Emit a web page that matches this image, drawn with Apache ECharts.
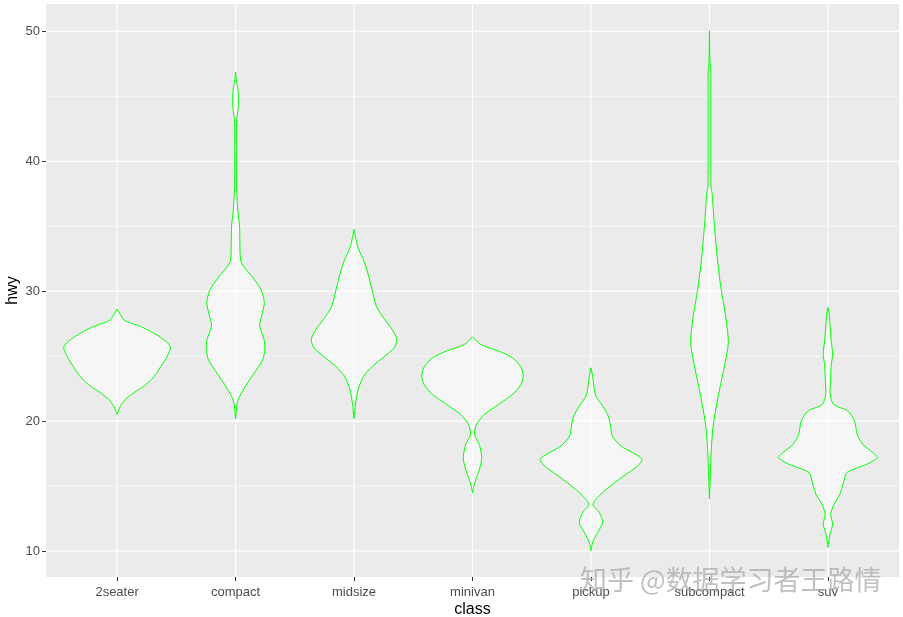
<!DOCTYPE html>
<html><head><meta charset="utf-8">
<script src="https://cdn.jsdelivr.net/npm/echarts@6/dist/echarts.min.js"></script>
<style>html,body{margin:0;padding:0;background:#fff}#c{width:903px;height:617px}</style>
</head><body><div id="c"></div>
<script>
const categories = ['2seater','compact','midsize','minivan','pickup','subcompact','suv'];
const yTicks = [10,20,30,40,50];
const yMinor = [15,25,35,45];

// Violin outlines: hwy value and half-width (in category units)
const hwy_2seater = [28.62,28.19,27.8,27.55,27.29,26.91,26.53,26.01,25.63,25.25,24.74,24.22,23.71,23.2,22.69,22.18,21.67,21.15,20.51];
const w_2seater   = [0,0.028,0.056,0.112,0.197,0.281,0.352,0.428,0.45,0.436,0.408,0.37,0.335,0.29,0.225,0.141,0.07,0.028,0];

const hwy_compact = [46.86,46.2,45.5,44.8,44.0,43.2,42.0,40.0,38.0,37.0,36.2,35.0,33.9,32.4,31.9,31.1,30.1,29.1,28.06,27.3,26.27,25.5,24.7,23.7,22.7,21.9,21.4,20.18];
const w_compact   = [0,0.007,0.021,0.024,0.021,0.01,0.007,0.007,0.008,0.014,0.019,0.034,0.036,0.042,0.068,0.141,0.216,0.243,0.219,0.203,0.241,0.247,0.228,0.158,0.084,0.034,0.014,0];

const hwy_midsize = [34.77,33.95,33.18,32.4,31.4,30.1,28.8,27.8,27.04,26.27,25.63,25.0,24.2,23.45,22.4,21.4,20.18];
const w_midsize   = [0,0.017,0.04,0.08,0.116,0.152,0.19,0.26,0.323,0.361,0.338,0.26,0.154,0.08,0.034,0.014,0];

const hwy_minivan = [26.48,25.9,25.37,24.87,24.1,23.45,22.8,22.05,21.28,20.5,19.75,18.98,18.2,17.2,16.4,15.66,15.0,14.5];
const w_minivan   = [0,0.068,0.225,0.338,0.412,0.428,0.408,0.338,0.219,0.099,0.034,0.017,0.057,0.078,0.062,0.034,0.011,0];

const hwy_pickup = [24.1,23.45,22.7,21.92,21.15,20.38,19.62,18.85,18.08,17.57,17.06,16.55,15.9,15.14,14.37,13.6,12.97,12.2,11.44,10.67,10.02];
const w_pickup   = [0,0.014,0.024,0.042,0.099,0.146,0.165,0.18,0.253,0.352,0.43,0.394,0.295,0.183,0.084,0.017,0.07,0.099,0.057,0.014,0];

const hwy_subcompact = [50.06,47.7,47.0,45.6,42.0,38.0,37.5,35.5,32.9,30.36,28.3,26.8,26.0,25.0,23.2,21.4,19.6,17.6,16.0,14.0];
const w_subcompact   = [0,0.004,0.011,0.011,0.011,0.013,0.023,0.038,0.062,0.095,0.133,0.154,0.159,0.143,0.103,0.063,0.031,0.014,0.008,0];

const hwy_suv = [28.75,28.19,27.17,26.14,25.12,24.35,23.33,22.05,21.28,20.77,20.0,18.98,18.2,17.57,17.19,16.68,16.04,15.27,14.37,13.6,12.84,12.07,11.3,10.28];
const w_suv   = [0,0.011,0.019,0.028,0.04,0.028,0.023,0.019,0.048,0.169,0.225,0.247,0.295,0.38,0.418,0.329,0.16,0.131,0.101,0.051,0.023,0.04,0.017,0];

const profiles = [
  [hwy_2seater, w_2seater],
  [hwy_compact, w_compact],
  [hwy_midsize, w_midsize],
  [hwy_minivan, w_minivan],
  [hwy_pickup, w_pickup],
  [hwy_subcompact, w_subcompact],
  [hwy_suv, w_suv]
];

const catPositions = categories.map((c, i) => i + 1);

const chart = echarts.init(document.getElementById('c'));

// grid line items: [kind, value]
const gridItems = [];
yMinor.forEach(v => gridItems.push(['hminor', v]));
yTicks.forEach(v => gridItems.push(['hmajor', v]));
catPositions.forEach(v => gridItems.push(['vmajor', v]));

const font = '"Liberation Sans", Arial, sans-serif';

chart.setOption({
  animation: false,
  backgroundColor: '#ffffff',
  grid: { left: 46, right: 4, top: 4, bottom: 40, show: true, backgroundColor: '#EBEBEB', borderWidth: 0,
    containLabel: false, outerBoundsMode: 'none' },
  xAxis: {
    type: 'value', min: 0.4, max: 7.6,
    name: 'class', nameLocation: 'middle', nameGap: 25, nameMoveOverlap: false,
    nameTextStyle: { fontSize: 16, color: '#000000', fontFamily: font },
    axisLine: { show: false },
    axisTick: { show: true, length: 4, lineStyle: { color: '#333333', width: 1 }, customValues: catPositions },
    axisLabel: { color: '#4D4D4D', fontSize: 13, fontFamily: font, margin: 9, customValues: catPositions,
      formatter: v => categories[Math.round(v) - 1] || '' },
    splitLine: { show: false }
  },
  yAxis: {
    type: 'value', min: 8.0, max: 52.1,
    name: 'hwy', nameLocation: 'middle', nameGap: 25, nameRotate: 90, nameMoveOverlap: false,
    nameTextStyle: { fontSize: 16, color: '#000000', fontFamily: font },
    axisLine: { show: false },
    axisTick: { show: true, length: 4, lineStyle: { color: '#333333', width: 1 }, customValues: yTicks },
    axisLabel: { color: '#4D4D4D', fontSize: 13, fontFamily: font, margin: 6, customValues: yTicks },
    splitLine: { show: false }
  },
  series: [
    {
      type: 'custom', silent: true, z: 1,
      data: gridItems,
      renderItem: function (params, api) {
        const kind = gridItems[params.dataIndex][0];
        const v = gridItems[params.dataIndex][1];
        const cs = params.coordSys;
        if (kind === 'vmajor') {
          const x = api.coord([v, 30])[0];
          return { type: 'line', shape: { x1: x, y1: cs.y, x2: x, y2: cs.y + cs.height },
            style: { stroke: '#FFFFFF', lineWidth: 1.1 } };
        }
        const y = api.coord([1, v])[1];
        return { type: 'line', shape: { x1: cs.x, y1: y, x2: cs.x + cs.width, y2: y },
          style: { stroke: '#FFFFFF', lineWidth: kind === 'hmajor' ? 1.1 : 0.55 } };
      }
    },
    {
      type: 'custom', silent: true, z: 2, clip: true,
      data: catPositions,
      renderItem: function (params, api) {
        const i = params.dataIndex;
        const xc = catPositions[i];
        const ys = profiles[i][0], ws = profiles[i][1];
        const pts = [];
        for (let k = 0; k < ys.length; k++) pts.push(api.coord([xc + ws[k], ys[k]]));
        for (let k = ys.length - 1; k >= 0; k--) pts.push(api.coord([xc - ws[k], ys[k]]));
        return { type: 'polygon', shape: { points: pts, smooth: 0.25 },
          style: { fill: 'rgba(255,255,255,0.55)', stroke: '#00FF00', lineWidth: 1 } };
      }
    }
  ],
  graphic: [{
    type: 'text', left: 580, top: 566, z: 100, silent: true,
    style: { text: '知乎 @数据学习者王路情', fontSize: 27, fontFamily: '"Noto Sans CJK SC", sans-serif',
      fill: 'rgba(165,165,165,0.7)', textShadowColor: 'rgba(255,255,255,0.9)', textShadowOffsetX: 1, textShadowOffsetY: 1, textShadowBlur: 0 }
  }]
});
</script></body></html>
